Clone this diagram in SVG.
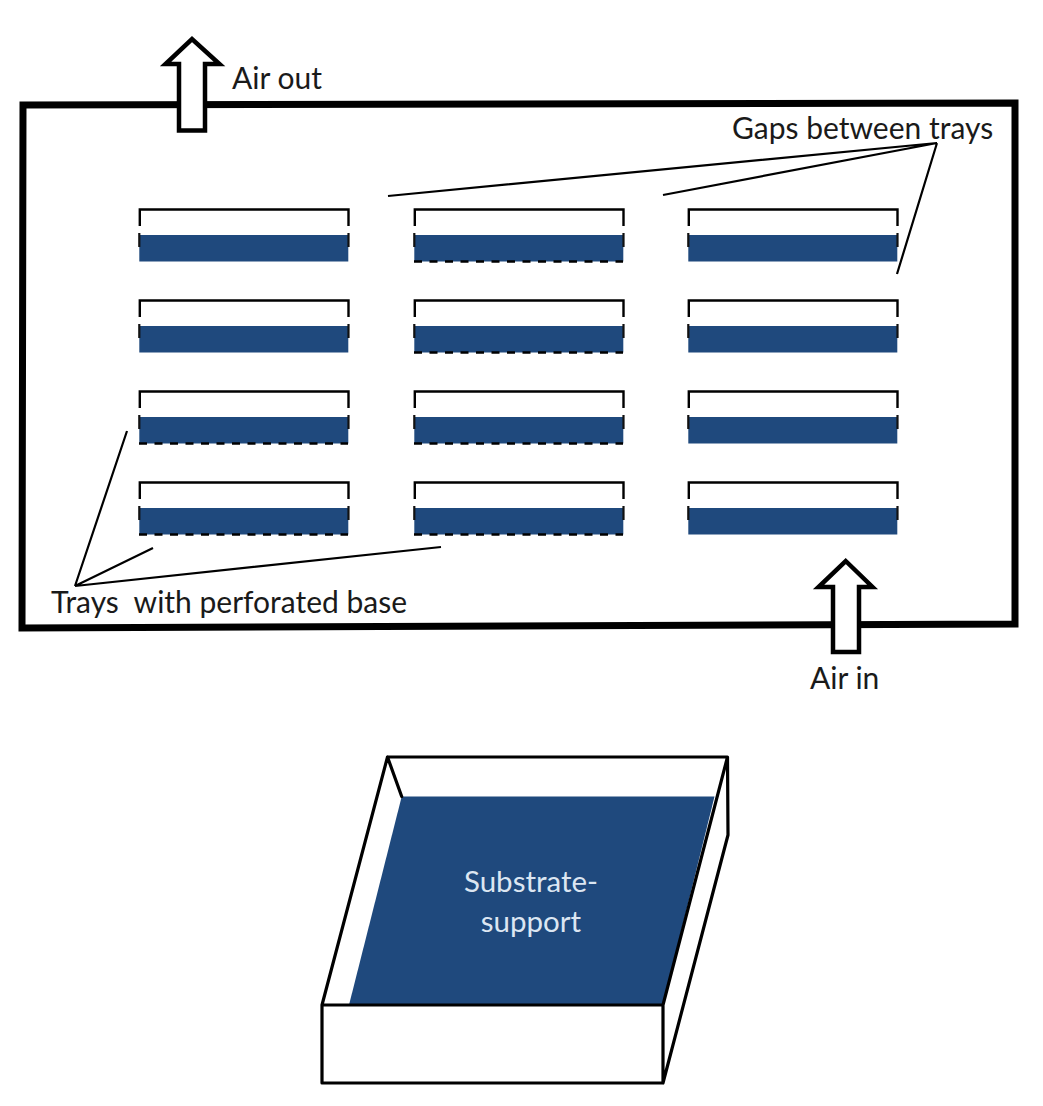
<svg xmlns="http://www.w3.org/2000/svg" width="1043" height="1106" viewBox="0 0 1043 1106">
<style>
text{font-family:"Lato","Open Sans","Liberation Sans",sans-serif;font-size:30px;fill:#1a1a1a}
.inv{fill:#dce6f2;font-size:29.5px}
.blue{fill:#1f497d}
.ln{fill:none;stroke:#000;stroke-linecap:round;stroke-linejoin:round}
.lead{fill:none;stroke:#000;stroke-width:2.2}
.arrow{fill:#fff;stroke:#000;stroke-width:4.5;stroke-linejoin:miter}
.frame{fill:none;stroke:#000;stroke-width:2.4}
.side{fill:none;stroke:#111;stroke-width:2.2;stroke-linecap:butt}
.dash{fill:none;stroke:#000;stroke-width:2.4;stroke-dasharray:8 7.5}
</style>
<defs>
<g id="tray">
<path class="frame" d="M0.8 17V0.5H209.5V17"/>
<rect class="blue" x="0.3" y="26" width="209" height="26.500"/>
<path class="side" d="M0.3 24V38M209.5 24V38"/>
</g>
<path id="base" class="dash" d="M0 52.500H209"/>
</defs>
<rect width="1043" height="1106" fill="#fff"/>
<g id="chamber"><path d="M23 105L1015 103V624L22 628Z" fill="none" stroke="#000" stroke-width="7" stroke-linejoin="miter"/></g>
<g id="trays">
<g id="tray-1-1"><use href="#tray" x="139" y="209"/></g>
<g id="tray-1-2"><use href="#tray" x="414" y="209"/><use href="#base" x="414" y="209"/></g>
<g id="tray-1-3"><use href="#tray" x="688" y="209"/></g>
<g id="tray-2-1"><use href="#tray" x="139" y="300"/></g>
<g id="tray-2-2"><use href="#tray" x="414" y="300"/><use href="#base" x="414" y="300"/></g>
<g id="tray-2-3"><use href="#tray" x="688" y="300"/></g>
<g id="tray-3-1"><use href="#tray" x="139" y="391"/><use href="#base" x="139" y="391"/></g>
<g id="tray-3-2"><use href="#tray" x="414" y="391"/><use href="#base" x="414" y="391"/></g>
<g id="tray-3-3"><use href="#tray" x="688" y="391"/></g>
<g id="tray-4-1"><use href="#tray" x="139" y="482"/><use href="#base" x="139" y="482"/></g>
<g id="tray-4-2"><use href="#tray" x="414" y="482"/><use href="#base" x="414" y="482"/></g>
<g id="tray-4-3"><use href="#tray" x="688" y="482"/></g>
</g>
<g id="connectors">
<path class="lead" d="M937 143L388 196M937 143L663 195M937 143L897 274"/>
<path class="lead" d="M75 586L127 431M75 586L153 548M75 586L441 547"/>
</g>
<g id="air-out-arrow"><path class="arrow" d="M179 130.500V64H165.500L192 39L219.500 64H205V130.500Z"/></g>
<g id="air-in-arrow"><path class="arrow" d="M833 652V587H818.500L845.700 561L872.500 587H859V652Z"/></g>
<g id="labels">
<text x="232" y="88.500">Air out</text>
<text x="732" y="139">Gaps between trays</text>
<text x="51" y="612.500" xml:space="preserve">Trays  with perforated base</text>
<text x="810" y="688.500">Air in</text>
</g>
<g id="tray-detail">
<path d="M401.700 796.500H714.500L663 1005H349Z" class="blue"/>
<path class="ln" stroke-width="3.200" d="M387.500 757H727.500L663 1005V1083H322V1005ZM322 1005H663M387.500 757L401.700 796.500M727.500 757L728 835L663 1083"/>
<text class="inv" x="531" y="892" text-anchor="middle">Substrate-</text>
<text class="inv" x="531" y="931.500" text-anchor="middle">support</text>
</g>
</svg>
